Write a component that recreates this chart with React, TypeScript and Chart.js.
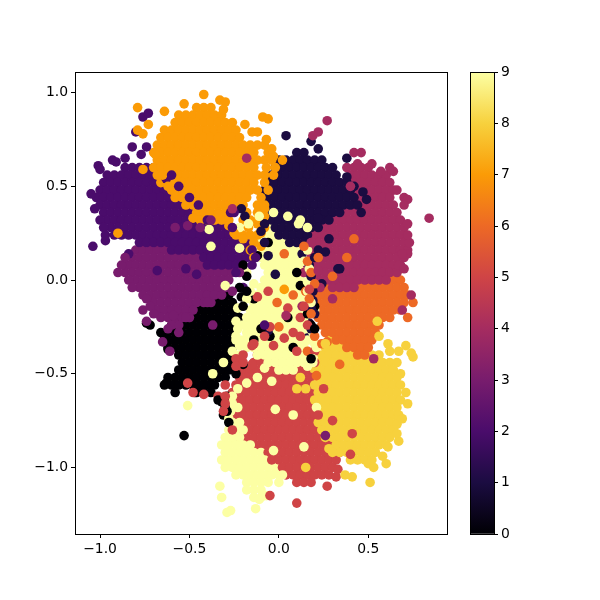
import { Chart, registerables } from "chart.js";
import { useEffect, useRef } from "react";

Chart.register(...registerables);

// every row is [y, x, x, x...], in hundredths of an axis unit
const digit0 = [
  [-8,-40,-36,-32,-28],[-12,-42,-38,-34,-30,-26],[-16,-48,-44,-40,-36,-32,-28,-24],[-20,-58,-54,-50,-46,-42,-38,-34,-30,-26,-22],
  [-24,-60,-56,-52,-48,-44,-40,-36,-32,-28,-24],[-28,-62,-58,-54,-50,-46,-42,-38,-34,-30,-26],
  [-32,-64,-60,-56,-52,-48,-44,-40,-36,-32,-28,-24],[-36,-62,-58,-54,-50,-46,-42,-38,-34,-30,-26],
  [-40,-56,-52,-48,-44,-40,-36,-32,-28],[-44,-54,-50,-46,-42,-38,-34,-30,-26],[-48,-56,-52,-48,-44,-40,-36,-32,-28],
  [-52,-62,-58,-54,-50,-46,-42,-38,-34,-30],[-56,-64,-60,-56,-52,-48,-44,-40,-36],[-60,-46,-42,-38],
  [-83,-53],[-55,-63],[-60,-58],[-60,-47],[-65,-32],[-72,-31],[-62,-29],[-23,-74],[-24,-72],[-28,-66],[-30,-64],[-37,-62],
  [13,-12],[-10,-14],[-9,-21],[-50,-24],[-30,-5],[-20,5],[-3,12],[-14,20],[-45,-20],[-32,-14],[-26,-10],[4,10],[20,-6],[-36,8],
  [-18,16],[-24,18],[-64,-34],[-68,-30],[-70,-29],[-76,-28],[-4,-22],[2,-18],[8,-20],[-14,-20],[-6,-18],[-42,18],[-26,20],
];
const digit1 = [
  [68,10,14],[64,0,4,8,12,16,20,24],[60,-2,2,6,10,14,18,22,26,30],[56,-4,0,4,8,12,16,20,24,28,32],
  [52,-6,-2,2,6,10,14,18,22,26,30,34,38],[48,-8,-4,0,4,8,12,16,20,24,28,32,36,40],[44,-6,-2,2,6,10,14,18,22,26,30,34,38,42],
  [40,-8,-4,0,4,8,12,16,20,24,28,32,36,40,44],[36,-6,-2,2,6,10,14,18,22,26,30,34],[32,-4,0,4,8,12,16,20,24,28],
  [28,-2,2,6,10,14,18,22],[24,0,4,8,12,16],[20,6,10,14],
  [77,4],[74,18],[70,22],[13,-6],[14,13],[6,34],[33,22],[43,49],[47,47],[55,38],[65,38],[-23,17],[-31,16],[-27,-6],
  [3,-2],[6,33],[-11,19],[-2,24],[38,-21],[34,-19],[22,28],[15,26],[-15,18],[36,46],[50,42],
  [8,17],[2,18],[-6,19],[-18,20],[-26,18],[12,20],[16,22],[30,-8],[26,-10],[20,-8],
];
const digit2 = [
  [60,-86,-82,-78,-74,-70],[56,-96,-92,-88,-84,-80,-76,-72,-68,-64],[52,-98,-94,-90,-86,-82,-78,-74,-70,-66,-62],
  [48,-100,-96,-92,-88,-84,-80,-76,-72,-68,-64,-60,-56],[44,-102,-98,-94,-90,-86,-82,-78,-74,-70,-66,-62,-58,-54],
  [40,-100,-96,-92,-88,-84,-80,-76,-72,-68,-64,-60,-56,-52],[36,-98,-94,-90,-86,-82,-78,-74,-70,-66,-62,-58,-54,-50],
  [32,-96,-92,-88,-84,-80,-76,-72,-68,-64,-60,-56,-52,-48,-44],[28,-94,-90,-86,-82,-78,-74,-70,-66,-62,-58,-54,-50,-46,-42,-38,-34,-30],
  [24,-92,-88,-84,-80,-76,-72,-68,-64,-60,-56,-52,-48,-44,-40,-36,-32,-28,-24],[20,-78,-74,-70,-66,-62,-58,-54,-50,-46,-42,-38,-34,-30,-26,-22,-18],
  [16,-60,-56,-52,-48,-44,-40,-36,-32,-28,-24,-20],[12,-42,-38,-34,-30,-26,-22,-18],[8,-40,-36,-32,-28,-24,-20],
  [18,-104],[61,-101],[59,-100],[64,-93],[63,-91],[71,-82],[67,-77],[71,-74],[87,-76],[89,-73],[79,-80],[5,-68],[6,-52],[3,-46],
  [36,-27],[36,-25],[40,-45],[54,-63],[-4,-20],[-24,-8],[21,-97],[14,-84],
  [65,-86],[46,-105],[38,-103],[32,-100],[28,-98],[24,-97],[56,-60],[50,-56],[44,-50],[32,-40],[28,-26],[16,-15],[8,-15],[12,-13],[4,-24],
];
const digit3 = [
  [24,-70,-66,-62,-58,-54,-50,-46],[20,-76,-72,-68,-64,-60,-56,-52,-48,-44,-40,-36],
  [16,-80,-76,-72,-68,-64,-60,-56,-52,-48,-44,-40,-36,-32],[12,-82,-78,-74,-70,-66,-62,-58,-54,-50,-46,-42,-38,-34,-30],
  [8,-84,-80,-76,-72,-68,-64,-60,-56,-52,-48,-44,-40,-36,-32,-28],[4,-86,-82,-78,-74,-70,-66,-62,-58,-54,-50,-46,-42,-38,-34,-30,-26],
  [0,-80,-76,-72,-68,-64,-60,-56,-52,-48,-44,-40,-36,-32,-28],[-4,-78,-74,-70,-66,-62,-58,-54,-50,-46,-42,-38,-34,-30],
  [-8,-76,-72,-68,-64,-60,-56,-52,-48,-44,-40,-36,-32],[-12,-70,-66,-62,-58,-54,-50,-46,-42,-38],
  [-16,-68,-64,-60,-56,-52,-48],[-20,-66,-62,-58,-54,-50],[-24,-60,-56],
  [4,-90],[-16,-76],[-22,-74],[-33,-65],[-38,-61],[-20,-52],[-12,-40],[-24,-37],[-19,-59],[29,-51],[-83,26],
  [28,-58],[8,-88],[12,-86],[0,-84],[-4,-82],[-10,-74],[-14,-72],[-18,-70],[-26,-62],[-28,-56],[28,-44],[32,-38],[-6,-26],[4,-22],
];
const digit4 = [
  [60,38,42,46,50],[56,40,44,48,52,56,60],[52,42,46,50,54,58,62],[48,44,48,52,56,60,64],[44,46,50,54,58,62],
  [40,44,48,52,56,60,64],[36,34,38,42,46,50,54,58,62,66],[32,28,32,36,40,44,48,52,56,60,64,68],[28,22,26,30,34,38,42,46,50,54,58,62,66,70],
  [24,20,24,28,32,36,40,44,48,52,56,60,64,68],[20,18,22,26,30,34,38,42,46,50,54,58,62,66,70],
  [16,16,20,24,28,32,36,40,44,48,52,56,60,64,68,72],[12,18,22,26,30,34,38,42,46,50,54,58,62,66,70],
  [8,16,20,24,28,32,36,40,44,48,52,56,60,64,68],[4,14,18,22,26,30,34,38,42,46,50,54,58,62,66],
  [0,20,24,28,32,36,40,44,48,52,56,60],[-4,30,34,38,42],
  [33,84],[85,27],[79,22],[77,19],[68,42],[68,46],[44,70],[43,72],[20,73],[14,72],[14,69],[60,62],[58,57],[-8,74],[-16,69],[8,67],
  [-14,13],[-19,4],[65,-18],[38,-26],[-4,23],[-42,53],[20,18],[5,22],[-10,30],
  [48,66],[40,70],[30,72],[6,70],[62,44],[62,52],[58,64],[50,40],[24,72],
];
const digit5 = [
  [-40,-12,-8,-4,0,4,8,12],[-44,-14,-10,-6,-2,2,6,10,14],[-48,-20,-16,-12,-8,-4,0,4,8,12,16],
  [-52,-22,-18,-14,-10,-6,-2,2,6,10,14,18],[-56,-24,-20,-16,-12,-8,-4,0,4,8,12,16],[-60,-26,-22,-18,-14,-10,-6,-2,2,6,10,14,18],
  [-64,-24,-20,-16,-12,-8,-4,0,4,8,12,16],[-68,-26,-22,-18,-14,-10,-6,-2,2,6,10,14,18],[-72,-24,-20,-16,-12,-8,-4,0,4,8,12,16,20],
  [-76,-22,-18,-14,-10,-6,-2,2,6,10,14,18,22],[-80,-24,-20,-16,-12,-8,-4,0,4,8,12,16,20,24],
  [-84,-22,-18,-14,-10,-6,-2,2,6,10,14,18,22,26],[-88,-12,-8,-4,0,4,8,12,16,20,24,28,32],
  [-92,-6,-2,2,6,10,14,18,22,26,30,34],[-96,-4,0,4,8,12,16,20,24,28,32],[-100,2,6,10,14,18,22,26,30],
  [-104,4,8,12,16,20,24,28],[-108,10,14,18],
  [-119,10],[-110,27],[-101,33],[-105,32],[-115,-5],[-60,-48],[-61,-42],[-55,-51],[-82,41],[-93,40],[-35,-3],[-6,-6],[-7,17],
  [-35,-15],[-45,-15],[-9,-12],[-31,3],[-25,-5],[-15,5],[-20,12],[-28,8],[-58,25],[-75,30],[-62,-34],[-38,10],[-42,-24],
  [-30,-8],[-34,-14],[-44,-20],[-40,-20],[-46,-24],[-38,20],[-44,20],[-30,12],[-14,14],[-24,16],[-5,17],[-62,-30],[-66,-30],[-70,-31],[-72,22],[-80,-26],[-56,-30],
];
const digit6 = [
  [8,40,44,48,52,56,60],[4,34,38,42,46,50,54,58,62,66],[0,28,32,36,40,44,48,52,56,60,64,68],[-4,22,26,30,34,38,42,46,50,54,58,62,66,70],
  [-8,20,24,28,32,36,40,44,48,52,56,60,64,68,72],[-12,22,26,30,34,38,42,46,50,54,58,62,66,70],[-16,24,28,32,36,40,44,48,52,56,60,64,68],
  [-20,22,26,30,34,38,42,46,50,54,58,62],[-24,24,28,32,36,40,44,48,52,56],[-28,26,30,34,38,42,46,50,54],[-32,32,36,40,44,48,52],
  [-36,38,42,46,50],[-40,44,48],
  [-12,75],[-20,72],[-33,27],[-12,-1],[-51,21],[14,3],[-25,0],[2,30],[22,42],[12,38],[-45,34],[-8,8],[-38,16],[-6,15],
  [10,16],[4,18],[-2,20],[-10,17],[-18,18],[-30,20],[-34,24],[12,22],[18,14],
];
const digit7 = [
  [92,-46,-42,-38],[88,-56,-52,-48,-44,-40,-36,-32],[84,-58,-54,-50,-46,-42,-38,-34,-30,-26],
  [80,-64,-60,-56,-52,-48,-44,-40,-36,-32,-28,-24],[76,-66,-62,-58,-54,-50,-46,-42,-38,-34,-30,-26,-22],
  [72,-68,-64,-60,-56,-52,-48,-44,-40,-36,-32,-28,-24,-20,-16,-12,-8],[68,-70,-66,-62,-58,-54,-50,-46,-42,-38,-34,-30,-26,-22,-18,-14],
  [64,-68,-64,-60,-56,-52,-48,-44,-40,-36,-32,-28,-24,-20,-16,-12,-8,-4],[60,-70,-66,-62,-58,-54,-50,-46,-42,-38,-34,-30,-26,-22,-18,-14],
  [56,-68,-64,-60,-56,-52,-48,-44,-40,-36,-32,-28,-24,-20,-16,-12,-8],[52,-66,-62,-58,-54,-50,-46,-42,-38,-34,-30,-26,-22,-18,-14],
  [48,-60,-56,-52,-48,-44,-40,-36,-32,-28,-24,-20,-16,-12],[44,-58,-54,-50,-46,-42,-38,-34,-30,-26,-22,-18],
  [40,-52,-48,-44,-40,-36,-32,-28,-24,-20,-12,-8],[36,-46,-42,-38,-34,-30,-26,-18],[32,-44,-40,-36,-32,-28,-20,-16,-12],[24,-24,-20,-16,-12],
  [92,-79],[99,-42],[96,-33],[95,-30],[91,-31],[90,-64],[94,-53],[87,-9],[86,-6],[83,-19],[79,-15],[79,-12],
  [75,-7],[68,-6],[64,2],[66,-3],[60,-7],[38,-8],[30,-12],[22,-20],[25,-25],[28,-17],[25,-10],
  [33,-48],[35,-34],[29,-28],[80,-79],[83,-73],[78,-76],[56,-65],[59,-76],[67,-69],[50,-62],[25,-90],[-5,3],
  [44,-10],[52,-8],[48,-6],[36,-12],[34,-8],[28,-8],[20,-14],[18,-10],[16,-16],[12,-14],[56,-3],[70,-4],[60,-2],
];
const digit8 = [
  [-32,28,32,36,40],[-36,26,30,34,38,42,46],[-40,24,28,32,36,40,44,48,52,56],[-44,22,26,30,34,38,42,46,50,54,58,62],
  [-48,20,24,28,32,36,40,44,48,52,56,60,64],[-52,22,26,30,34,38,42,46,50,54,58,62,66],[-56,20,24,28,32,36,40,44,48,52,56,60,64,68],
  [-60,22,26,30,34,38,42,46,50,54,58,62,66],[-64,20,24,28,32,36,40,44,48,52,56,60,64,68],[-68,22,26,30,34,38,42,46,50,54,58,62,66],
  [-72,24,28,32,36,40,44,48,52,56,60,64],[-76,22,26,30,34,38,42,46,50,54,58,62,66],[-80,24,28,32,36,40,44,48,52,56,60,64],
  [-84,26,30,34,38,42,46,50,54,58,62],[-88,32,36,40,44,48,52,56,60],[-92,34,38,42,46,50,54],[-96,40,44,48,52],
  [-72,67],[-77,66],[-86,67],[-89,61],[-98,60],[-100,53],[-108,51],[-105,41],[-104,37],[-100,15],[-52,12],[-58,10],[-58,15],
  [-35,71],[-41,75],[-39,74],[-38,67],[-38,62],[-34,61],[-22,55],[-30,56],
  [-44,66],[-50,68],[-60,71],[-66,72],[-74,69],[-82,66],[-94,58],[-98,50],[-34,26],[-90,28],[-92,30],
];
const digit9 = [
  [32,-4,0],[28,-10,-6,-2,2,6],[24,-12,-8,-4,0,4,8],[20,-14,-10,-6,-2,2,6,10],[16,-12,-8,-4,0,4,8,12],[12,-10,-6,-2,2,6,10],
  [8,-8,-4,0,4,8,12],[4,-6,-2,2,6,10,14],[0,-8,-4,0,4,8,12],[-4,-10,-6,-2,2,6,10],[-8,-12,-8,-4,0,4,8,12],[-12,-14,-10,-6,-2,2,6,10,14],
  [-16,-16,-12,-8,-4,0,4,8,12],[-20,-18,-14,-10,-6,-2,2,6,10,14],[-24,-20,-16,-12,-8,-4,0,4,8,12],[-28,-18,-14,-10,-6,-2,2,6,10,14],
  [-32,-20,-16,-12,-8,-4,0,4,8,12,16],[-36,-18,-14,-10,-6,-2,2,6,10,14],[-40,-12,-8,-4,0,4,8,12,16],[-44,-6,-2,2,6,10,14],[-48,0,4,8],
  [-76,-26,-22],[-80,-28,-24,-20],[-84,-30,-26,-22],[-88,-32,-28,-24,-20,-16],[-92,-30,-26,-22,-18,-14,-10],[-96,-32,-28,-24,-20,-16,-12,-8],
  [-100,-30,-26,-22,-18,-14,-10,-6,-2],[-104,-24,-20,-16,-12,-8,-4,0],[-108,-18,-14,-10,-6],[-112,-18,-14,-10],[-116,-14,-10],
  [-110,-33],[-116,-32],[-123,-27],[-124,-29],[-122,-13],[-115,-7],[-117,-11],[-108,0],[-104,2],[-67,-51],[-50,-37],
  [27,-39],[18,-38],[28,-22],[17,-22],[4,-18],[-3,-30],[-15,-23],[-32,-24],[-44,-31],[-38,-26],
  [-69,-2],[-72,8],[-55,-18],[-68,21],[-89,14],[-91,-3],[-16,20],[28,16],[30,11],[-20,14],[-25,18],[-32,16],[-34,20],
  [-62,-26],[-66,-26],[-70,-27],[-74,-28],[-68,-23],[-58,-23],[-22,-24],[-26,-23],[-30,-24],[-35,-22],[-40,-22],[-10,-18],[-6,-16],[-2,-14],
  [10,14],[16,16],[6,17],[-1,16],[-6,16],[-12,18],[-28,19],[-36,21],[-42,19],[-44,19],[-46,16],[-52,-12],[-54,-4],[-47,-8],[32,12],[34,5],[36,-3],[30,-17],[34,-11],
];

const xTicks = [-1, -0.5, 0, 0.5];
const yTicks = [-1, -0.5, 0, 0.5, 1];
const colorbarTicks = [0, 1, 2, 3, 4, 5, 6, 7, 8, 9];
const inferno = ["#000004", "#1b0c41", "#4a0c6b", "#781c6d", "#a52c60", "#cf4446", "#ed6925", "#fb9b06", "#f7d13d", "#fcffa4"];

const digits = [digit0, digit1, digit2, digit3, digit4, digit5, digit6, digit7, digit8, digit9];

// mix the classes so none is painted wholly on top of another
const points = digits
  .flatMap((rows, digit) => {
    const flat = rows.flatMap(([y, ...xs]) => xs.map((x) => ({ x: x / 100, y: y / 100 })));
    return flat.map((p, i) => ({ ...p, color: inferno[digit], order: i / flat.length }));
  })
  .sort((a, b) => a.order - b.order);

const font = { family: "DejaVu Sans", size: 13.9 };
const minus = (s: string) => s.replace("-", "\u2212");

const frame = {
  id: "frame",
  afterDraw(chart: any) {
    const { left, top, width, height } = chart.chartArea;
    const ctx = chart.ctx;
    ctx.save();
    ctx.strokeStyle = "#000";
    ctx.lineWidth = 1;
    ctx.strokeRect(Math.round(left) + 0.5, Math.round(top) + 0.5, Math.round(width), Math.round(height));
    ctx.restore();
  },
};

function App() {
  const mainRef = useRef<HTMLCanvasElement | null>(null);
  const barRef = useRef<HTMLCanvasElement | null>(null);

  useEffect(() => {
    const ctx = mainRef.current?.getContext("2d");
    const barCtx = barRef.current?.getContext("2d");
    if (!ctx || !barCtx) return;

    const tickGrid = { drawOnChartArea: false, tickLength: 4, tickColor: "#000", tickWidth: 1 };

    const chart = new Chart(ctx, {
      type: "scatter",
      data: {
        datasets: [
          {
            data: points,
            pointBackgroundColor: points.map((p) => p.color),
            pointBorderWidth: 0,
            pointRadius: 4.8,
          },
        ],
      },
      options: {
        animation: false,
        responsive: false,
        devicePixelRatio: 1,
        layout: { padding: { top: 72, right: 153, left: 0, bottom: 0 } },
        plugins: { legend: { display: false }, tooltip: { enabled: false } },
        scales: {
          x: {
            type: "linear",
            min: -1.14,
            max: 0.94,
            afterFit: (s: any) => { s.height = 66; },
            afterBuildTicks: (s: any) => { s.ticks = xTicks.map((value) => ({ value })); },
            grid: tickGrid,
            border: { display: false },
            ticks: { color: "#000", font, padding: 3, maxRotation: 0, callback: (v: any) => minus(Number(v).toFixed(1)) },
          },
          y: {
            type: "linear",
            min: -1.355,
            max: 1.11,
            afterFit: (s: any) => { s.width = 75; },
            afterBuildTicks: (s: any) => { s.ticks = yTicks.map((value) => ({ value })); },
            grid: tickGrid,
            border: { display: false },
            ticks: { color: "#000", font, padding: 3, callback: (v: any) => minus(Number(v).toFixed(1)) },
          },
        },
      },
      plugins: [frame],
    });

    const gradient = barCtx.createLinearGradient(0, 534, 0, 72);
    inferno.forEach((c, i) => gradient.addColorStop(i / (inferno.length - 1), c));

    const bar = new Chart(barCtx, {
      type: "bar",
      data: {
        labels: ["digit"],
        datasets: [
          {
            data: [[colorbarTicks[0], colorbarTicks[colorbarTicks.length - 1]]],
            backgroundColor: gradient,
            barPercentage: 1,
            categoryPercentage: 1,
          },
        ],
      },
      options: {
        animation: false,
        responsive: false,
        devicePixelRatio: 1,
        layout: { padding: { top: 72, bottom: 66, left: 470, right: 0 } },
        plugins: { legend: { display: false }, tooltip: { enabled: false } },
        scales: {
          x: { display: false },
          y: {
            position: "right",
            min: 0,
            max: 9,
            afterFit: (s: any) => { s.width = 106; },
            afterBuildTicks: (s: any) => { s.ticks = colorbarTicks.map((value) => ({ value })); },
            grid: tickGrid,
            border: { display: false },
            ticks: { color: "#000", font, padding: 3 },
          },
        },
      },
      plugins: [frame],
    });

    return () => {
      chart.destroy();
      bar.destroy();
    };
  }, []);

  return (
    <div style={{ position: "absolute", left: 0, top: 0, width: 600, height: 600, background: "#fff" }}>
      <canvas ref={mainRef} width={600} height={600} style={{ position: "absolute", left: 0, top: 0 }}></canvas>
      <canvas ref={barRef} width={600} height={600} style={{ position: "absolute", left: 0, top: 0 }}></canvas>
    </div>
  );
}

export default App;
